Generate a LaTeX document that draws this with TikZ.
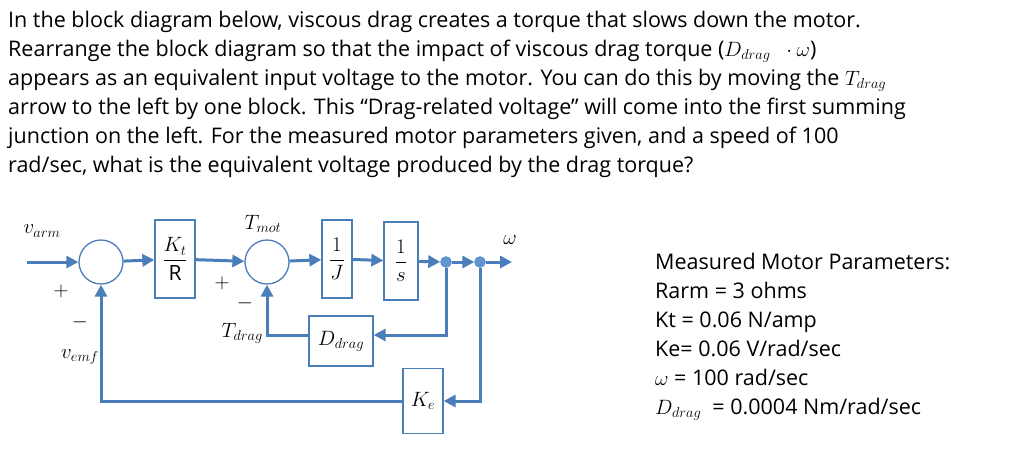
\documentclass[tikz,border=0pt]{standalone}
\usepackage{fontspec}
\setmainfont{Open Sans}
\usepackage{amsmath}
\usetikzlibrary{positioning,arrows.meta}
\definecolor{lineblue}{RGB}{74,126,187}
\definecolor{dotblue}{RGB}{95,150,210}
\tikzset{
  sig/.style={draw=lineblue,line width=3pt,-{Triangle[length=12pt,width=12pt]}},
  sum/.style={circle,draw=lineblue,line width=1.3pt,minimum size=44pt,inner sep=0pt},
  block/.style={rectangle,draw=lineblue,line width=1.3pt,inner sep=0pt,font=\fontsize{21}{25}\selectfont},
  tap/.style={circle,fill=dotblue,draw=lineblue,minimum size=11pt,inner sep=0pt},
  txt/.style={anchor=base west,inner sep=0pt,font=\fontsize{21.5}{25}\selectfont},
  lbl/.style={inner sep=0pt,font=\fontsize{21}{25}\selectfont}
}
\begin{document}
\begin{tikzpicture}[x=1pt,y=-1pt]
   \useasboundingbox (0,0) rectangle (1011,459);
   % question text
   \node[txt] (l1) at (8,27) {In the block diagram below, viscous drag creates a torque that slows down the motor.};
   \node[txt] (l2) at (8,56) {Rearrange the block diagram so that the impact of viscous drag torque ($D_{drag}\ \ \cdot\omega$)};
   \node[txt] (l3) at (8,85) {appears as an equivalent input voltage to the motor. You can do this by moving the $T_{drag}$};
   \node[txt] (l4) at (8,114) {arrow to the left by one block. This “Drag-related voltage” will come into the first summing};
   \node[txt] (l5) at (8,143) {junction on the left. For the measured motor parameters given, and a speed of 100};
   \node[txt] (l6) at (8,172) {rad/sec, what is the equivalent voltage produced by the drag torque?};
   % blocks
   \node[sum] (s1) at (101,262) {};
   \node[block,minimum width=40pt,minimum height=78pt] (kt) at (175,259) {$\dfrac{K_t}{\mathrm{R}}$};
   \node[sum] (s2) at (267,262) {};
   \node[block,minimum width=30pt,minimum height=78pt] (j) at (337,259) {$\dfrac{1}{J}$};
   \node[block,minimum width=34pt,minimum height=78pt] (s) at (401,261) {$\dfrac{1}{s}$};
   \node[tap] (d1) at (446,262) {};
   \node[tap] (d2) at (480,262) {};
   \coordinate (out) at (512,262);
   \coordinate (in) at (27,262);
   \node[block,minimum width=64pt,minimum height=50pt] (dd) at (341,341) {$D_{drag}$};
   \node[block,minimum width=40pt,minimum height=65pt] (ke) at (423,401) {$K_e$};
   % forward path
   \draw[sig] (in) -- (s1);
   \draw[sig] (s1) -- (kt);
   \draw[sig] (kt) -- (s2);
   \draw[sig] (s2) -- (j);
   \draw[sig] (j) -- (s);
   \draw[sig] (s) -- (d1);
   \draw[sig] (d1) -- (d2);
   \draw[sig] (d2) -- (out);
   % feedback
   \draw[sig] (d1) |- (dd.east |- 0,335);
   \draw[sig] (dd.west |- 0,335) -| (s2.south);
   \draw[sig] (d2) |- (ke.east |- 0,401);
   \draw[sig] (ke.west |- 0,401) -| (s1.south);
   % labels
   \node[lbl] (varm) at (42,231) {$v_{arm}$};
   \node[lbl] (tmot) at (263,224) {$T_{mot}$};
   \node[lbl] (w) at (510,240) {$\omega$};
   \node[lbl] (p1) at (61,291) {$+$};
   \node[lbl] (m1) at (80,322) {$-$};
   \node[lbl] (vemf) at (80,357) {$v_{emf}$};
   \node[lbl] (p2) at (222,283) {$+$};
   \node[lbl] (m2) at (245,303) {$-$};
   \node[lbl,anchor=east] (td) at (263,333) {$T_{drag}$};
   % parameters
   \node[txt] (p0) at (655,269) {Measured Motor Parameters:};
   \node[txt] (pa) at (655,298) {Rarm = 3 ohms};
   \node[txt] (pb) at (655,327) {Kt = 0.06 N/amp};
   \node[txt] (pc) at (655,356) {Ke= 0.06 V/rad/sec};
   \node[txt] (pd) at (655,385) {$\omega$ = 100 rad/sec};
   \node[txt] (pe) at (655,414) {$D_{drag}$ \ = 0.0004 Nm/rad/sec};
\end{tikzpicture}
\end{document}
